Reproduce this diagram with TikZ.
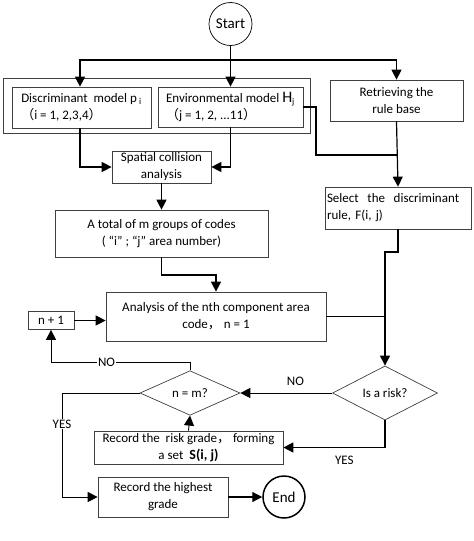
\documentclass[tikz,border=0pt]{standalone}
\usepackage{fontspec}
\setmainfont{Carlito}
\newfontfamily\cjk{Noto Sans CJK SC}
\usetikzlibrary{shapes.geometric}
\usetikzlibrary{arrows.meta}
\tikzstyle{box}=[draw=black!75, line width=0.7pt, align=center, inner sep=2pt]
\tikzstyle{lbox}=[box, align=left]
\tikzstyle{term}=[draw, circle, line width=0.7pt, inner sep=0pt]
\tikzstyle{decide}=[draw=black!75, diamond, line width=0.7pt, inner sep=0pt]
\tikzstyle{flow}=[line width=1.2pt, -{Triangle[length=10pt, width=10pt]}]
\tikzstyle{tflow}=[line width=0.9pt, -{Triangle[length=10pt, width=10pt]}]
\tikzstyle{link}=[line width=1.1pt]
\tikzstyle{tag}=[fill=white, inner sep=1pt]

\begin{document}
\begin{tikzpicture}[x=1pt, y=-1pt, font=\fontsize{13}{17}\selectfont]
        \useasboundingbox (0,0) rectangle (474,541);
        % top row
        \node[term, minimum size=43pt]                              (start) at (230.5, 24) {\fontsize{15}{17}\selectfont Start};
        \node[box, minimum width=307pt, minimum height=55pt]         (group) at (156.5, 105.5) {};
        \node[lbox, minimum width=139pt, minimum height=41pt]        (disc) at (81.5, 107.5)
            {Discriminant\ \ model p\,$_{\mathrm{i}}$\\{\cjk （}i = 1, 2,3,4{\cjk ）}};
        \node[lbox, minimum width=145pt, minimum height=40pt]        (env) at (230.5, 107)
            {Environmental model {\fontsize{16}{17}\selectfont H}$_{\mathrm{j}}$\\{\cjk （}j = 1, 2, ...11{\cjk ）}};
        \node[box, minimum width=133pt, minimum height=41pt]         (rule) at (396.5, 100.5) {Retrieving the\\rule base};
        % middle
        \node[box, minimum width=99pt, minimum height=32pt]          (spatial) at (161.5, 167) {Spatial collision\\analysis};
        \node[box, minimum width=213pt, minimum height=47pt]         (total) at (161.5, 233.5)
            {A total of m groups of codes\\( “i” ; “j” area number)};
        \node[lbox, text width=142pt, minimum height=42pt]           (select) at (398, 208)
            {Select\ \ the\ \ discriminant\\rule, F(i, j)};
        \node[box, minimum width=220pt, minimum height=49pt]         (analysis) at (216, 316.5)
            {Analysis of the nth component area\\code{\cjk ，}\ n = 1};
        \node[box, minimum width=46pt, minimum height=18pt]          (nplus) at (51, 320.5) {n + 1};
        % decisions
        \node[decide, minimum width=105pt, minimum height=31pt]      (risk) at (385, 393) {Is a risk?};
        \node[decide, minimum width=100pt, minimum height=29pt]      (nm) at (190, 393) {n = m?};
        % bottom
        \node[box, minimum width=189pt, minimum height=33pt]         (record) at (188.5, 447.5)
            {Record the\ \ risk grade{\cjk ，}\ forming\\a set\ \ {\fontsize{14}{15}\selectfont\bfseries S(i, j)}};
        \node[box, minimum width=130pt, minimum height=40pt]         (highest) at (163, 497) {Record the highest\\grade};
        \node[term, line width=1.5pt, minimum size=42pt]             (end) at (284, 497) {\fontsize{15}{17}\selectfont End};
        % bends
        \coordinate (split) at (230.5, 60);
        \coordinate (bend1) at (316, 155);
        \coordinate (bend2) at (216, 275);
        \coordinate (bend3) at (385, 252);
        \coordinate (bend4) at (190, 362);
        \coordinate (bend5) at (62, 393);
        % connectors
        \draw[link] (start) -- (split);
        \draw[flow] (split) -| (disc.north -| 80,0);
        \draw[flow] (split) -- (env.north);
        \draw[flow] (split) -| (rule.north);
        \draw[flow] (disc.south -| 80,0) |- (spatial.west);
        \draw[flow] (env.south) |- (spatial.east);
        \draw[link] (env.east) -| (bend1) -- (bend1 -| rule.south);
        \draw[flow] (rule.south) -- (select.north);
        \draw[flow] (spatial.south) -- (total.north);
        \draw[flow] (total.south) |- (bend2) -- (analysis.north);
        \draw[flow] (select.south) |- (bend3) -- (risk.north);
        \draw[link, line width=0.8pt] (analysis.east) -- (analysis.east -| risk.north);
        \draw[flow] (nplus.east) -- (nplus.east -| analysis.west);
        \draw[tflow] (risk.west) -- (nm.east) node[pos=0.4, above=4pt] {NO};
        \draw[tflow] (nm.north) -- (bend4) -| (nplus.south) node[tag, pos=0.3] {NO};
        \draw[flow] (risk.south) |- (record.east) node[pos=0.7, below=5pt] {YES};
        \draw[tflow] (record.north) -- (nm.south);
        \draw[tflow] (nm.west) -- (bend5) |- (highest.west) node[tag, pos=0.15] {YES};
        \draw[flow] (highest.east) -- (end.west);
    \end{tikzpicture}
\end{document}
